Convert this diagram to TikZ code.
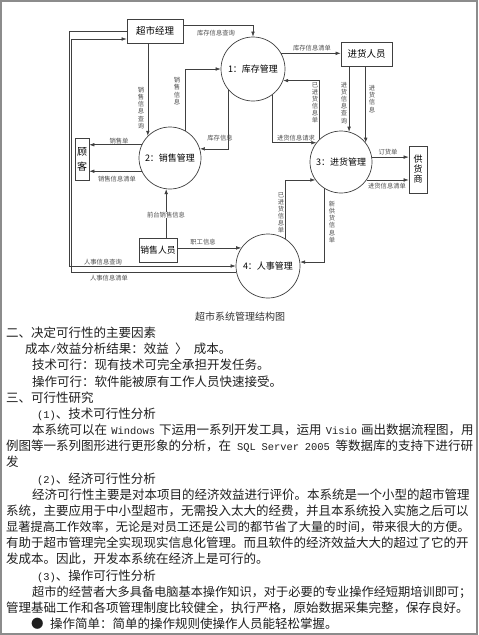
\documentclass[tikz,border=0pt]{standalone}
\usepackage{fontspec}
\setmainfont{Noto Sans CJK SC}
\newfontfamily\monof{Liberation Mono}
\usetikzlibrary{arrows.meta,calc}
\XeTeXlinebreaklocale "zh"
\XeTeXlinebreakskip=0pt plus 1pt minus 1.5pt
\newcommand\mf[1]{{\monof\fontsize{10.4}{12}\selectfont #1}}
\tikzset{
  circ/.style={circle, draw=black!75, line width=0.7pt, inner sep=0pt, font=\fontsize{9}{10}\selectfont},
  ent/.style={rectangle, draw=black!75, line width=0.7pt, inner sep=0pt, font=\fontsize{9.5}{11}\selectfont},
  flow/.style={draw=black!75, line width=0.6pt, -{Latex[length=5pt,width=3.6pt]}},
  lbl/.style={inner sep=0.3pt, font=\fontsize{6.3}{7}\selectfont, text=black!70},
  vlbl/.style={lbl, align=center, font=\fontsize{6.3}{7.1}\selectfont},
  body/.style={anchor=base west, inner sep=0pt, font=\fontsize{12.5}{14}\selectfont, text=black!88},
  tight/.style={font=\fontsize{12.2}{14}\selectfont},
}
\begin{document}
\begin{tikzpicture}[x=1pt,y=-1pt]
\useasboundingbox (0,0) rectangle (479,635);
\fill[white] (0,0) rectangle (479,635);
\draw[black!45, line width=2pt] (1,1) rectangle (477,634);

% processes
\node[circ, minimum size=64pt] (c1) at (253,69) {1：库存管理};
\node[circ, minimum size=62pt] (c2) at (170,158) {2：销售管理};
\node[circ, minimum size=62pt] (c3) at (341,162) {3：进货管理};
\node[circ, minimum size=64pt] (c4) at (268,266) {4：人事管理};

% entities
\node[ent, minimum width=56pt, minimum height=24pt] (mgr) at (155,31) {超市经理};
\node[ent, minimum width=51pt, minimum height=24pt] (buyer) at (366.5,54) {进货人员};
\node[ent, minimum width=14pt, minimum height=42pt, align=center, font=\fontsize{10}{15}\selectfont] (cust) at (82,159) {顾\\客};
\node[ent, minimum width=18pt, minimum height=47pt, align=center, font=\fontsize{9}{10}\selectfont] (supp) at (418,169.5) {供\\货\\商};
\node[ent, minimum width=38pt, minimum height=24pt, font=\fontsize{8.8}{10}\selectfont] (sales) at (158,250) {销售人员};

% flows
\draw[flow] ([yshift=6pt]mgr.east) -| (c1.north);
\draw[flow] (mgr.south -| c2.north west) -- (c2.north west);
\draw[flow] (c2.60) |- (c1.west);
\draw[flow] (c1.221) |- (c2.17);
\draw[flow] (c1.29) -- (c1.29 -| buyer.west);
\draw[flow] (buyer.south -| c3.75) -- (c3.75);
\draw[flow] (buyer.south -| c3.38) -- (c3.38);
\draw[flow] (c1.307) |- (c3.142);
\draw[flow] (c3.133) |- (c1.339);
\draw[flow] (c3.9) -- (c3.9 -| supp.west);
\draw[flow] (c3.325) -- (c3.325 -| supp.west);
\draw[flow] (c4.58) |- (c3.215);
\draw[flow] (c3.237) |- (c4.7);
\draw[flow] (sales.north -| c2.263) -- (c2.263);
\draw[flow] (sales.east |- c4.146) -- (c4.146);
\draw[flow] (c2.155) -- (c2.155 -| cust.east);
\draw[flow] (c2.205) -- (c2.205 -| cust.east);
\coordinate (la) at (69,0);
\coordinate (lb) at (71.5,0);
\coordinate (mgrin) at ([yshift=-8pt]mgr.west);
\draw[flow] (mgr.west) -| (la |- c4.west) -- (c4.west);
\draw[flow] (c4.192) -| (lb |- mgrin) -- (mgrin);

% flow labels
\node[lbl] at (216,33) {库存信息查询};
\node[vlbl] at (141,108) {销\\售\\信\\息\\查\\询};
\node[vlbl] at (177,91) {销\\售\\信\\息};
\node[lbl] at (220,138) {库存信息};
\node[lbl] at (312,48) {库存信息清单};
\node[vlbl] at (344,103) {进\\货\\信\\息\\查\\询};
\node[vlbl] at (372,99) {进\\货\\信\\息};
\node[lbl] at (296,138) {进货信息请求};
\node[vlbl] at (315,103) {已\\进\\货\\信\\息\\单};
\node[lbl] at (388,152) {订货单};
\node[lbl] at (387,186) {进货信息清单};
\node[vlbl] at (281,213) {已\\进\\货\\信\\息\\单};
\node[vlbl] at (332,222) {新\\供\\货\\信\\息\\单};
\node[lbl, fill=white] at (166,215) {前台销售信息};
\node[lbl] at (203,242) {职工信息};
\node[lbl] at (119,141) {销售单};
\node[lbl] at (117,179) {销售信息清单};
\node[lbl] at (103,262) {人事信息查询};
\node[lbl] at (109,278) {人事信息清单};

% caption
\node[font=\fontsize{10}{12}\selectfont, text=black!80, inner sep=0pt] (cap) at (240,317) {超市系统管理结构图};

% body text
\node[body] (t1) at (6,337.5) {二、决定可行性的主要因素};
\node[body] (t2) at (25,353.7) {成本\mf{/}效益分析结果：效益\mf{\ }〉\mf{\ }成本。};
\node[body] (t3) at (32,369.8) {技术可行：现有技术可完全承担开发任务。};
\node[body] (t4) at (32,386.0) {操作可行：软件能被原有工作人员快速接受。};
\node[body] (t5) at (6,402.2) {三、可行性研究};
\node[body] (t6) at (37,418.4) {\mf{(1)}、技术可行性分析};
\node[body] (t7) at (32,434.5) {\hbox to 441pt{本系统可以在\mf{\ Windows\ }下运用一系列开发工具，运用\mf{\ Visio\ }画出数据流程图，用}};
\node[body] (t8) at (6,450.7) {\hbox to 467pt{例图等一系列图形进行更形象的分析，在\mf{\ SQL Server 2005\ }等数据库的支持下进行研}};
\node[body] (t9) at (6,466.9) {发};
\node[body] (t10) at (37,483.0) {\mf{(2)}、经济可行性分析};
\node[body] (t11) at (32,499.2) {\hbox to 441pt{经济可行性主要是对本项目的经济效益进行评价。本系统是一个小型的超市管理}};
\node[body] (t12) at (6,515.4) {\hbox to 466pt{系统，主要应用于中小型超市，无需投入太大的经费，并且本系统投入实施之后可以}};
\node[body, tight] (t13) at (6,531.5) {\hbox to 465pt{显著提高工作效率，无论是对员工还是公司的都节省了大量的时间，带来很大的方便。}};
\node[body] (t14) at (6,547.7) {\hbox to 467pt{有助于超市管理完全实现现实信息化管理。而且软件的经济效益大大的超过了它的开}};
\node[body] (t15) at (6,563.9) {发成本。因此，开发本系统在经济上是可行的。};
\node[body] (t16) at (37,580.1) {\mf{(3)}、操作可行性分析};
\node[body, tight] (t17) at (32,596.2) {\hbox to 440pt{超市的经营者大多具备电脑基本操作知识，对于必要的专业操作经短期培训即可；}};
\node[body] (t18) at (6,612.4) {\hbox to 467pt{管理基础工作和各项管理制度比较健全，执行严格，原始数据采集完整，保存良好。}};
\node[body] (t19) at (31,628.5) {\makebox[19pt][l]{●}操作简单：简单的操作规则使操作人员能轻松掌握。};
\end{tikzpicture}
\end{document}
